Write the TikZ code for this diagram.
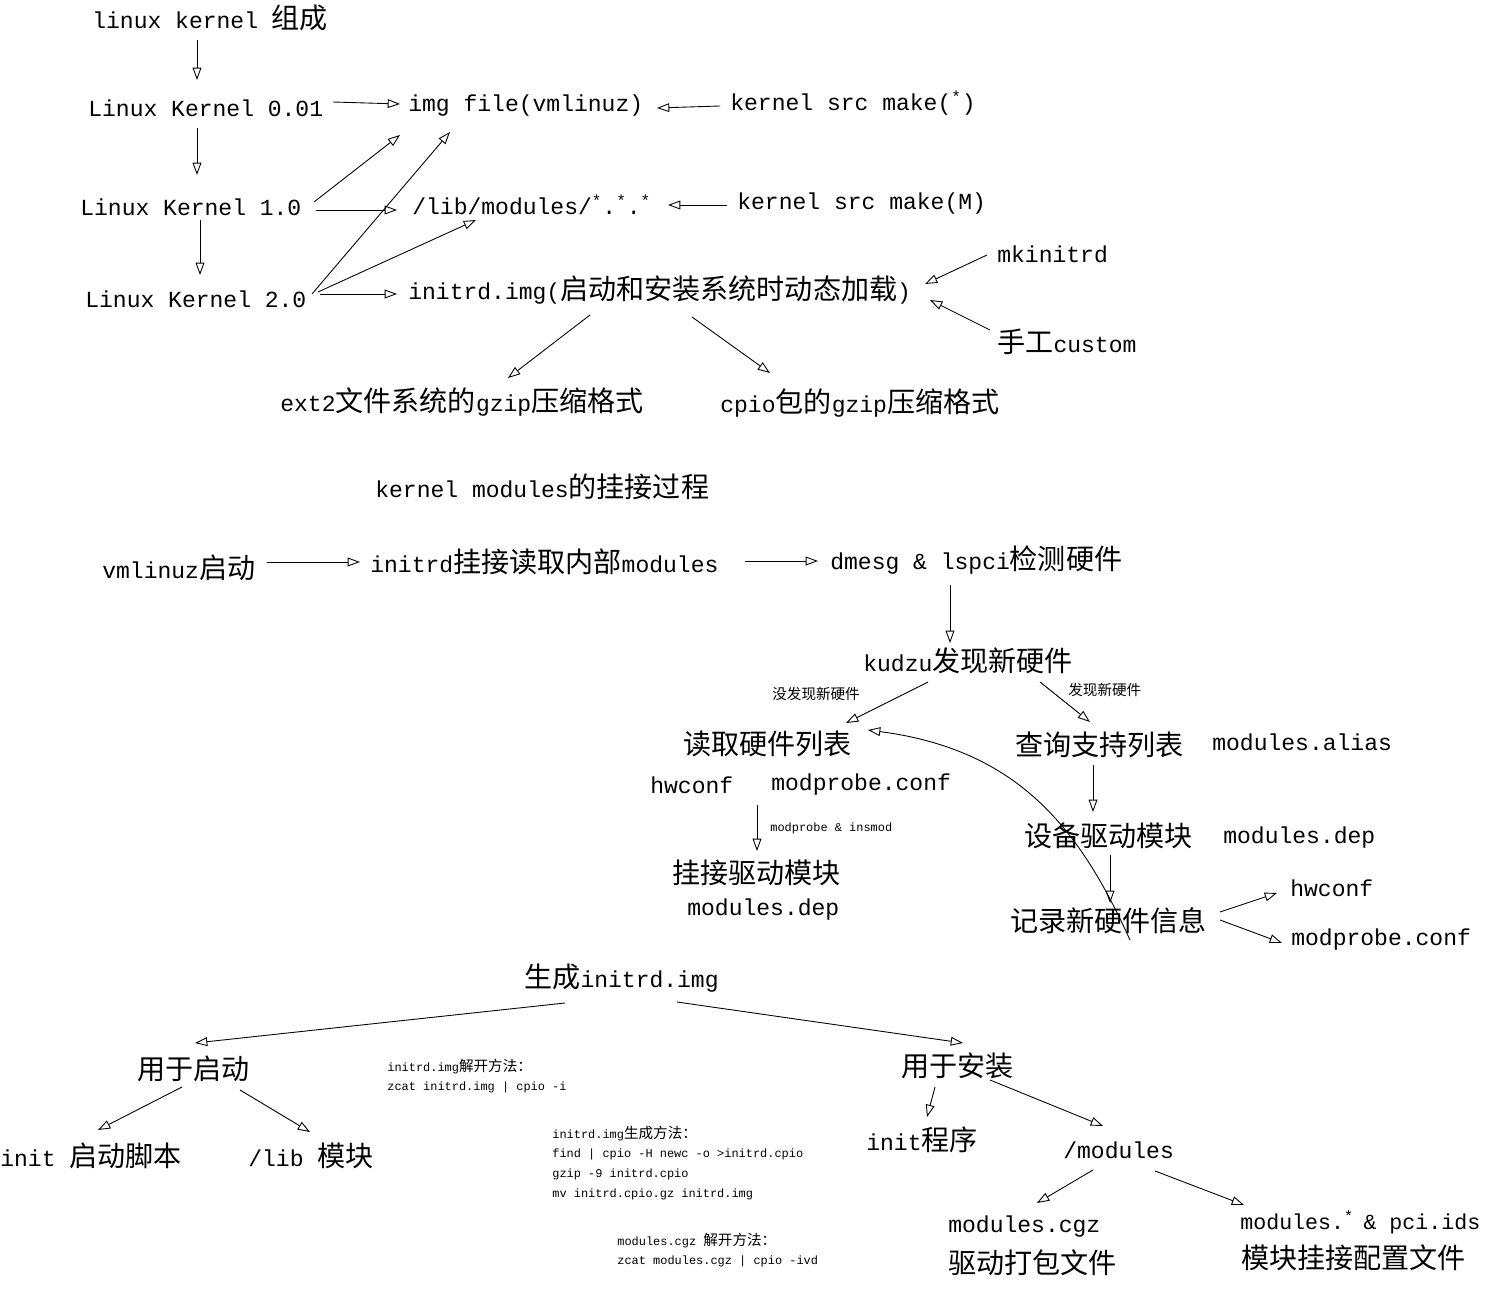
\documentclass[tikz,border=0pt]{standalone}
\usepackage{fontspec}
\setmainfont{Liberation Mono}
\newfontfamily\zhf{Noto Sans CJK SC}[Scale=1.22]
\newcommand{\z}[1]{{\zhf #1}}
\usetikzlibrary{arrows.meta}
\begin{document}
\begin{tikzpicture}[x=0.02cm,y=-0.02cm,
  t/.style={anchor=west,inner sep=0pt,font=\fontsize{13.1pt}{16pt}\selectfont},
  s/.style={anchor=west,inner sep=0pt,font=\fontsize{6.8pt}{8pt}\selectfont},
  a/.style={-{Triangle[open,length=7pt,width=5pt]},line width=0.5pt}]
\useasboundingbox (0,0) rectangle (1494,1297);
\node[t] (t1) at (92,18) {linux kernel \z{组成}};
\node[t] (k001) at (88,108) {Linux Kernel 0.01};
\node[t] (k10) at (80,207) {Linux Kernel 1.0};
\node[t] (k20) at (85,299) {Linux Kernel 2.0};
\node[t] (img) at (408,106) {img file(vmlinuz)};
\node[t] (ksm) at (730,103) {kernel src make(\textsuperscript{*})};
\node[t] (lib) at (412,205) {/lib/modules/\textsuperscript{*}.\textsuperscript{*}.\textsuperscript{*}};
\node[t] (ksmm) at (737,204) {kernel src make(M)};
\node[t] (initrd) at (408,290) {initrd.img(\z{启动和安装系统时动态加载})};
\node[t] (mk) at (997,254) {mkinitrd};
\node[t] (cus) at (997,342) {\z{手工}custom};
\node[t] (ext2) at (280,402) {ext2\z{文件系统的}gzip\z{压缩格式}};
\node[t] (cpio) at (720,403) {cpio\z{包的}gzip\z{压缩格式}};
\node[t] (ti2) at (375,487) {kernel modules\z{的挂接过程}};
\node[t] (vm) at (102,568) {vmlinuz\z{启动}};
\node[t] (ini2) at (370,562) {initrd\z{挂接读取内部}modules};
\node[t] (dm) at (830,560) {dmesg \& lspci\z{检测硬件}};
\node[t] (kud) at (863,661) {kudzu\z{发现新硬件}};
\node[s] (n1) at (772,694) {\z{没发现新硬件}};
\node[s] (n2) at (1068,690) {\z{发现新硬件}};
\node[t] (rd) at (683,744) {\z{读取硬件列表}};
\node[t] (qu) at (1015,745) {\z{查询支持列表}};
\node[t] (al) at (1212,742) {modules.alias};
\node[t] (hw1) at (650,785) {hwconf};
\node[t] (mp1) at (771,785) {modprobe.conf};
\node[s] (ins) at (770,828) {modprobe \& insmod};
\node[t] (dev) at (1024,836) {\z{设备驱动模块}};
\node[t] (dep1) at (1223,838) {modules.dep};
\node[t] (mnt) at (672,873) {\z{挂接驱动模块}};
\node[t] (dep2) at (687,910) {modules.dep};
\node[t] (rec) at (1010,921) {\z{记录新硬件信息}};
\node[t] (hw2) at (1290,888) {hwconf};
\node[t] (mp2) at (1291,940) {modprobe.conf};
\node[t] (gen) at (524,978) {\z{生成}initrd.img};
\node[t] (boot) at (137,1069) {\z{用于启动}};
\node[t] (inst) at (901,1066) {\z{用于安装}};
\node[t] (isc) at (0,1156) {init \z{启动脚本}};
\node[t] (lm) at (248,1156) {/lib \z{模块}};
\node[t] (ip) at (866,1140) {init\z{程序}};
\node[t] (mods) at (1063,1150) {/modules};
\node[t] (cgz) at (948,1227) {modules.cgz};
\node[t] (cgzz) at (948,1263) {\z{驱动打包文件}};
\node[t,font=\fontsize{12.3pt}{16pt}\selectfont] (ms) at (1240,1222) {modules.\textsuperscript{*}\kern-2pt{} \& pci.ids};
\node[t] (msz) at (1241,1258) {\z{模块挂接配置文件}};
\node[s] (m1) at (387,1067) {initrd.img\z{解开方法：}};
\node[s] (m2) at (387,1087) {zcat initrd.img | cpio -i};
\node[s] (m3) at (552,1134) {initrd.img\z{生成方法：}};
\node[s] (m4) at (552,1154) {find | cpio -H newc -o >initrd.cpio};
\node[s] (m5) at (552,1174) {gzip -9 initrd.cpio};
\node[s] (m6) at (552,1194) {mv initrd.cpio.gz initrd.img};
\node[s] (m7) at (617,1241) {modules.cgz \z{解开方法：}};
\node[s] (m8) at (617,1261) {zcat modules.cgz | cpio -ivd};
\draw[a] (197,40)--(197,80);
\draw[a] (197,128)--(197,175);
\draw[a] (200,220)--(200,275);
\draw[a] (333,102)--(400,104);
\draw[a] (720,106)--(657,108);
\draw[a] (314,202)--(400,135);
\draw[a] (316,210)--(397,210);
\draw[a] (312,294)--(450,132);
\draw[a] (318,292)--(476,220);
\draw[a] (320,294)--(397,294);
\draw[a] (727,205)--(668,205);
\draw[a] (987,255)--(925,284);
\draw[a] (990,330)--(930,300);
\draw[a] (590,315)--(508,378);
\draw[a] (692,317)--(770,373);
\draw[a] (267,562)--(360,562);
\draw[a] (745,561)--(818,561);
\draw[a] (950,585)--(950,643);
\draw[a] (928,682)--(846,723);
\draw[a] (1040,682)--(1090,722);
\draw[a] (1130,940) .. controls (1080,830) and (1020,750) .. (868,730);
\draw[a] (1093,765)--(1093,812);
\draw[a] (757,805)--(757,851);
\draw[a] (1110,855)--(1110,903);
\draw[a] (1220,912)--(1277,893);
\draw[a] (1220,920)--(1282,943);
\draw[a] (565,1003)--(195,1043);
\draw[a] (677,1002)--(963,1043);
\draw[a] (182,1087)--(98,1130);
\draw[a] (240,1090)--(310,1132);
\draw[a] (935,1087)--(927,1117);
\draw[a] (990,1080)--(1103,1126);
\draw[a] (1093,1170)--(1037,1203);
\draw[a] (1155,1171)--(1244,1205);
\end{tikzpicture}
\end{document}
